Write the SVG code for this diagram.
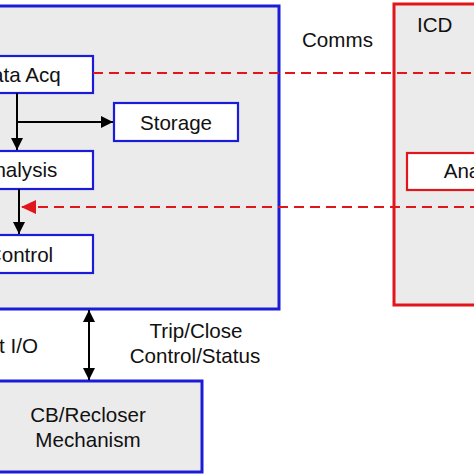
<svg xmlns="http://www.w3.org/2000/svg" width="474" height="474" viewBox="0 0 474 474">
<style>
.container{fill:#ebebeb;stroke:#1c1cd8;stroke-width:3}
.box{fill:#ffffff;stroke:#1c1cd8;stroke-width:2.2}
.icd{fill:#ebebeb;stroke:#e0161c;stroke-width:3}
.rbox{fill:#ffffff;stroke:#e0161c;stroke-width:2.2}
.cb{fill:#ebebeb;stroke:#1c1cd8;stroke-width:3}
text{font-family:"Liberation Sans",Arial,sans-serif;font-size:20.6px;fill:#111}
.c{text-anchor:middle}
.line{stroke:#000;stroke-width:2;fill:none}
.dash{stroke:#e0161c;stroke-width:2;fill:none;stroke-dasharray:10 6}
</style>
<defs>
<marker id="ah" viewBox="0 0 12 12" refX="12" refY="6" markerWidth="12" markerHeight="12" markerUnits="userSpaceOnUse" orient="auto-start-reverse">
<path d="M0,0 L12,6 L0,12 z" fill="#000"/>
</marker>
<marker id="rah" viewBox="0 0 15 14" refX="15" refY="7" markerWidth="15" markerHeight="14" markerUnits="userSpaceOnUse" orient="auto">
<path d="M0,0 L15,7 L0,14 z" fill="#e0161c"/>
</marker>
</defs>
<g id="relay">
<rect class="container" x="-100" y="6" width="379" height="303"/>
</g>
<g id="icd">
<rect class="icd" x="394" y="4" width="200" height="301"/>
<text x="417" y="32">ICD</text>
</g>
<g id="data-acq">
<rect class="box" x="-55" y="56" width="148" height="37"/>
<text class="c" x="19" y="82">Data Acq</text>
</g>
<g id="storage">
<rect class="box" x="114" y="103" width="124" height="38"/>
<text class="c" x="176" y="130">Storage</text>
</g>
<g id="analysis">
<rect class="box" x="-55" y="151" width="148" height="38"/>
<text class="c" x="19" y="177">Analysis</text>
</g>
<g id="control">
<rect class="box" x="-55" y="235" width="148" height="38"/>
<text class="c" x="20" y="262">Control</text>
</g>
<g id="icd-analysis">
<rect class="rbox" x="407" y="153" width="150" height="37"/>
<text class="c" x="482" y="178">Analysis</text>
</g>
<g id="cb-recloser">
<rect class="cb" x="-27" y="381" width="229" height="91"/>
<text class="c" x="88" y="422">CB/Recloser</text>
<text class="c" x="88" y="447">Mechanism</text>
</g>
<g id="connectors">
<line class="line" x1="17" y1="93" x2="17" y2="150" marker-end="url(#ah)"/>
<line class="line" x1="17" y1="122" x2="113" y2="122" marker-end="url(#ah)"/>
<line class="line" x1="19" y1="189" x2="19" y2="234" marker-end="url(#ah)"/>
<line class="line" x1="89" y1="310" x2="89" y2="380" marker-start="url(#ah)" marker-end="url(#ah)"/>
<line class="dash" x1="93" y1="73" x2="480" y2="73"/>
<line class="dash" x1="480" y1="207" x2="21" y2="207" marker-end="url(#rah)"/>
<text x="302" y="47">Comms</text>
<text class="c" x="196" y="338">Trip/Close</text>
<text class="c" x="195" y="363">Control/Status</text>
<text x="38" y="353" text-anchor="end">t I/O</text>
</g>
</svg>
